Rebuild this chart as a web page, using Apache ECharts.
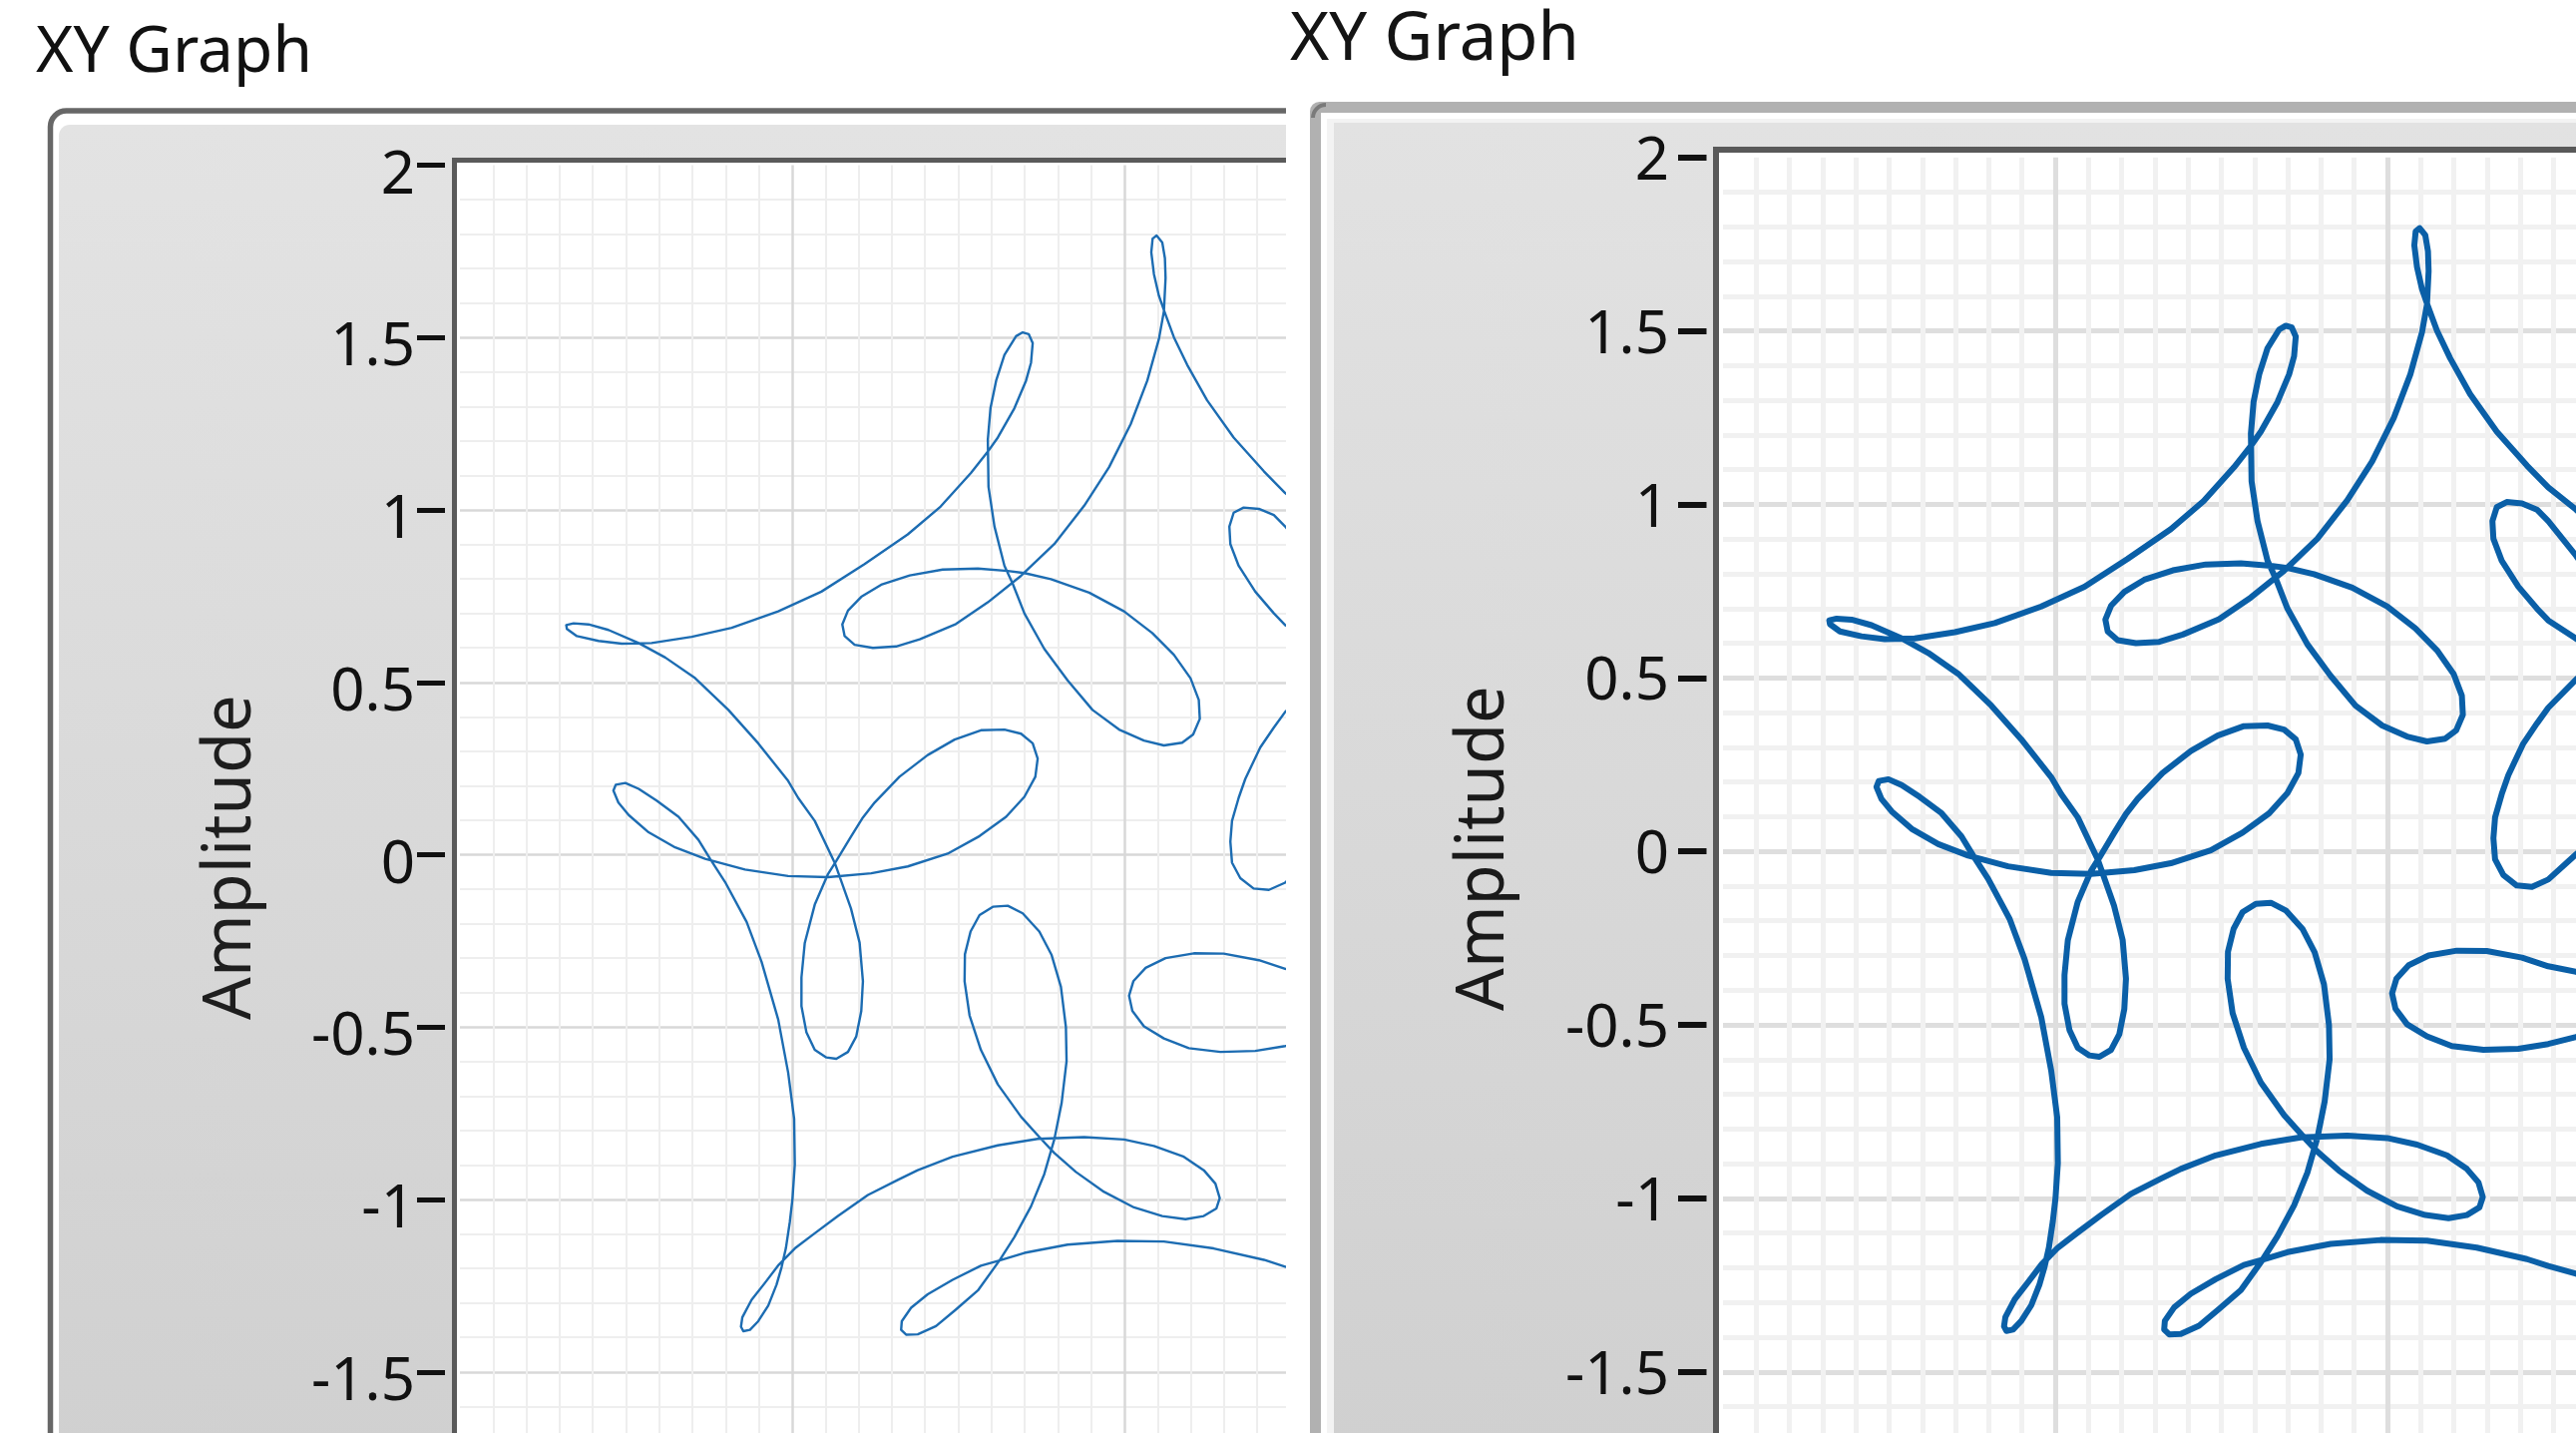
<!DOCTYPE html>
<html>
<head>
<meta charset="utf-8">
<script src="https://cdn.jsdelivr.net/npm/echarts@6/dist/echarts.min.js"></script>
<style>
html,body{margin:0;padding:0;background:#ffffff;overflow:hidden;width:2582px;height:1436px;}
#leftGraph{position:absolute;left:0;top:0;width:1289px;height:1436px;}
#rightGraph{position:absolute;left:1289px;top:0;width:1293px;height:1436px;}
</style>
</head>
<body>
<div id="leftGraph"></div>
<div id="rightGraph"></div>
<script>
// ---------- texts ----------
const chartTitle = 'XY Graph';
const yAxisName = 'Amplitude';

// ---------- axis scales ----------
const xScale = { min: -2, max: 1, step: 1, minorSplits: 10 };
const yScale = { min: -2, max: 2, step: 0.5, minorSplits: 5 };

// ---------- curve data (x, amplitude) ----------
const mainPathBottom = [
  [0.65,-1.245],[0.568,-1.217],[0.484,-1.195],[0.420,-1.175],[0.269,-1.142],[0.119,-1.122],
  [-0.021,-1.120],[-0.171,-1.131],[-0.301,-1.155],[-0.376,-1.177],[-0.432,-1.192],[-0.517,-1.233],
  [-0.592,-1.275],[-0.642,-1.314],[-0.670,-1.353],[-0.672,-1.378],[-0.657,-1.392],[-0.622,-1.391],
  [-0.567,-1.367],[-0.507,-1.319],[-0.441,-1.264],[-0.376,-1.177],[-0.331,-1.109],[-0.281,-1.020],
  [-0.241,-0.926],[-0.211,-0.826],[-0.189,-0.721],[-0.174,-0.599],[-0.176,-0.500],[-0.191,-0.383],
  [-0.219,-0.291],[-0.256,-0.223],[-0.306,-0.170],[-0.351,-0.148],[-0.396,-0.151],[-0.436,-0.175],
  [-0.463,-0.223],[-0.480,-0.289],[-0.481,-0.367],[-0.466,-0.466],[-0.432,-0.566],[-0.381,-0.666],
  [-0.311,-0.760],[-0.251,-0.824],[-0.211,-0.865],[-0.146,-0.920],[-0.061,-0.978],[0.029,-1.023],
  [0.114,-1.048],[0.184,-1.057],[0.239,-1.048],[0.277,-1.026],[0.287,-0.996],[0.274,-0.954],
  [0.239,-0.915],[0.179,-0.876],[0.089,-0.845],[-0.001,-0.826],[-0.121,-0.819],[-0.261,-0.824],
  [-0.381,-0.843],[-0.517,-0.876],[-0.622,-0.915],[-0.682,-0.943],[-0.772,-0.987],[-0.862,-1.048],
  [-0.932,-1.098],[-0.992,-1.142],[-1.040,-1.189],[-1.082,-1.242],[-1.122,-1.291],[-1.150,-1.342],
  [-1.154,-1.369],[-1.147,-1.382],[-1.127,-1.378],[-1.102,-1.353],[-1.072,-1.308],[-1.047,-1.247],
  [-1.032,-1.197],[-1.019,-1.142],[-1.007,-1.065],[-0.999,-0.998],[-0.992,-0.898],[-0.994,-0.766],
  [-1.012,-0.632],[-1.042,-0.478],[-1.092,-0.311],[-1.137,-0.195],[-1.202,-0.079],[-1.247,-0.012]
];
const mainPathMiddle = [
  [-1.282,0.043],[-1.342,0.110],[-1.408,0.157],[-1.462,0.191],[-1.502,0.208],[-1.531,0.203],
  [-1.538,0.186],[-1.523,0.151],[-1.492,0.115],[-1.432,0.065],[-1.352,0.021],[-1.262,-0.012],
  [-1.142,-0.043],[-1.012,-0.062],[-0.892,-0.065],[-0.762,-0.054],[-0.652,-0.034],[-0.532,0.003],
  [-0.436,0.054],[-0.356,0.110],[-0.301,0.168],[-0.268,0.226],[-0.261,0.279],[-0.276,0.323],
  [-0.311,0.351],[-0.361,0.363],[-0.432,0.361],[-0.511,0.334],[-0.592,0.289],[-0.677,0.226],
  [-0.752,0.151],[-0.787,0.108],[-0.822,0.054],[-0.867,-0.018],[-0.892,-0.056],[-0.932,-0.145],
  [-0.962,-0.256],[-0.972,-0.356],[-0.972,-0.439],[-0.957,-0.515],[-0.932,-0.566],[-0.897,-0.588],
  [-0.867,-0.592],[-0.832,-0.572],[-0.807,-0.527],[-0.792,-0.454],[-0.787,-0.367],[-0.797,-0.255],
  [-0.823,-0.156],[-0.872,-0.023],[-0.932,0.098],[-0.982,0.165],[-1.012,0.214],[-1.102,0.323],
  [-1.192,0.420],[-1.292,0.512],[-1.382,0.572],[-1.462,0.614],[-1.553,0.652],[-1.613,0.668],
  [-1.658,0.671],[-1.680,0.666],[-1.678,0.655],[-1.648,0.634],[-1.583,0.620],[-1.513,0.612],
  [-1.423,0.614],[-1.302,0.632],[-1.182,0.658],[-1.042,0.706],[-0.912,0.763],[-0.782,0.843],
  [-0.652,0.929],[-0.553,1.010]
];
const mainPathTop = [
  [-0.462,1.107],[-0.411,1.169],[-0.381,1.210],[-0.331,1.295],[-0.296,1.375],[-0.281,1.427],
  [-0.276,1.484],[-0.288,1.510],[-0.306,1.515],[-0.326,1.504],[-0.361,1.450],[-0.386,1.375],
  [-0.403,1.295],[-0.411,1.204],[-0.409,1.067],[-0.391,0.952],[-0.361,0.838],[-0.336,0.786],
  [-0.301,0.700],[-0.241,0.597],[-0.171,0.506],[-0.096,0.420],[-0.016,0.363],[0.059,0.331],
  [0.119,0.317],[0.174,0.325],[0.207,0.349],[0.227,0.394],[0.224,0.449],[0.199,0.512],
  [0.149,0.580],[0.084,0.643],[-0.001,0.706],[-0.106,0.760],[-0.221,0.799],[-0.301,0.817],
  [-0.351,0.823],[-0.441,0.830],[-0.547,0.827],[-0.646,0.810],[-0.732,0.783],[-0.792,0.748],
  [-0.832,0.708],[-0.849,0.668],[-0.842,0.634],[-0.812,0.609],[-0.757,0.600],[-0.687,0.604],
  [-0.616,0.625],[-0.507,0.669],[-0.411,0.732],[-0.311,0.809],[-0.211,0.901],[-0.121,1.012],
  [-0.046,1.124],[0.019,1.249],[0.069,1.375],[0.104,1.496],[0.119,1.576],[0.124,1.673],
  [0.122,1.730],[0.114,1.776],[0.097,1.796],[0.085,1.787],[0.081,1.747],[0.089,1.684],
  [0.104,1.621],[0.121,1.574],[0.149,1.501],[0.189,1.421],[0.249,1.318],[0.329,1.210],
  [0.420,1.112],[0.484,1.049],[0.568,0.985],[0.65,0.91]
];
const loopUpperRight = [
  [0.65,0.74],[0.568,0.852],[0.484,0.952],[0.450,0.985],[0.405,1.003],[0.359,1.007],
  [0.329,0.992],[0.316,0.952],[0.319,0.901],[0.344,0.838],[0.394,0.763],[0.450,0.700],
  [0.484,0.666],[0.568,0.613],[0.65,0.57]
];
const loopRight = [
  [0.65,0.56],[0.568,0.496],[0.484,0.414],[0.450,0.369],[0.409,0.311],[0.364,0.220],
  [0.344,0.165],[0.324,0.098],[0.319,0.038],[0.324,-0.023],[0.349,-0.068],[0.389,-0.098],
  [0.435,-0.102],[0.484,-0.081],[0.568,-0.008],[0.65,0.06]
];
const ellipseLowerRight = [
  [0.65,-0.37],[0.568,-0.347],[0.484,-0.331],[0.405,-0.306],[0.299,-0.287],[0.209,-0.286],
  [0.124,-0.300],[0.064,-0.328],[0.027,-0.367],[0.014,-0.409],[0.024,-0.453],[0.059,-0.498],
  [0.119,-0.533],[0.194,-0.561],[0.289,-0.572],[0.394,-0.569],[0.484,-0.555],[0.568,-0.535],
  [0.65,-0.51]
];
const mainPath = mainPathBottom.concat(mainPathMiddle, mainPathTop);
const curveSegments = [mainPath, loopUpperRight, loopRight, ellipseLowerRight];

const FONT = '"Noto Sans", "Open Sans", "DejaVu Sans", sans-serif';

function textEl(x, y, text, size, color, rot, align) {
  return {
    type: 'text', x: x, y: y, rotation: rot || 0, z: 20,
    style: {
      text: text, fontSize: size, fontFamily: FONT, fill: color,
      textAlign: align || 'left', align: align || 'left',
      textVerticalAlign: 'middle', verticalAlign: 'middle'
    }
  };
}

function gradientFill(top, bottom) {
  return { type: 'linear', x: 0, y: 0, x2: 0, y2: 1,
    colorStops: [{ offset: 0, color: top }, { offset: 1, color: bottom }] };
}

function buildOption(c) {
  const series = curveSegments.map(function (seg) {
    return {
      type: 'line', data: seg, xAxisIndex: 0, yAxisIndex: 0,
      showSymbol: false, symbol: 'none', smooth: false, clip: true,
      silent: true, animation: false, z: 3,
      lineStyle: { color: c.lineColor, width: c.lineWidth, cap: 'round', join: 'round' },
      emphasis: { disabled: true }
    };
  });
  return {
    animation: false,
    backgroundColor: 'transparent',
    graphic: { elements: c.graphics },
    grid: [{
      left: c.gridLeft, top: c.gridTop, width: c.gridWidth, height: c.gridHeight,
      containLabel: false, outerBoundsMode: 'none', show: false
    }],
    xAxis: [{
      type: 'value', gridIndex: 0, min: xScale.min, max: xScale.max, interval: xScale.step,
      position: 'bottom',
      axisLine: { show: false, onZero: false }, axisTick: { show: false }, axisLabel: { show: false },
      splitLine: { show: true, showMinLine: false, lineStyle: { color: c.majorColor, width: c.majorWidth } },
      minorTick: { show: false, splitNumber: xScale.minorSplits },
      minorSplitLine: { show: true, lineStyle: { color: c.minorColor, width: c.minorWidth } }
    }],
    yAxis: [{
      type: 'value', gridIndex: 0, min: yScale.min, max: yScale.max, interval: yScale.step,
      position: 'left', offset: c.yOffset,
      axisLine: { show: false, onZero: false },
      axisTick: { show: true, length: c.tickLen, lineStyle: { color: '#111111', width: c.tickWidth } },
      axisLabel: {
        show: true, margin: c.labelMargin, fontSize: c.labelSize, fontFamily: FONT,
        color: '#111111', verticalAlign: 'top', lineHeight: c.labelLineHeight
      },
      splitLine: { show: true, showMaxLine: false, lineStyle: { color: c.majorColor, width: c.majorWidth } },
      minorTick: { show: false, splitNumber: yScale.minorSplits },
      minorSplitLine: { show: true, lineStyle: { color: c.minorColor, width: c.minorWidth } }
    }],
    series: series
  };
}

// ---------- left graph (smooth rendering) ----------
const leftGraphics = [
  { type: 'rect', z: -5, shape: { x: 59, y: 125, width: 1400, height: 1400, r: [11, 0, 0, 0] },
    style: { fill: gradientFill('#e3e3e3', '#cfcfcf') } },
  { type: 'rect', z: -4, shape: { x: 50.5, y: 111, width: 1400, height: 1400, r: [16, 0, 0, 0] },
    style: { fill: 'none', stroke: '#676767', lineWidth: 5.5 } },
  { type: 'rect', z: -3, shape: { x: 453, y: 158, width: 900, height: 1300 }, style: { fill: '#ffffff' } },
  { type: 'line', z: 10, shape: { x1: 455.5, y1: 158, x2: 455.5, y2: 1460 }, style: { stroke: '#5a5a5a', lineWidth: 5 } },
  { type: 'line', z: 10, shape: { x1: 453, y1: 160.5, x2: 1320, y2: 160.5 }, style: { stroke: '#5a5a5a', lineWidth: 5 } },
  textEl(36, 54, chartTitle, 64, '#111111', 0, 'left'),
  textEl(232, 859, yAxisName, 67, '#1e1e1e', Math.PI / 2, 'center')
];
const leftCfg = {
  gridLeft: 461, gridTop: 165.5, gridWidth: 999, gridHeight: 1382,
  yOffset: 15, tickLen: 28, tickWidth: 5, labelMargin: 30, labelSize: 60, labelLineHeight: 22,
  lineColor: '#1c6cb2', lineWidth: 2.4,
  majorColor: '#d8d8d8', majorWidth: 2.5, minorColor: '#eeeeee', minorWidth: 2,
  graphics: leftGraphics
};

// ---------- right graph (coarse rendering), local coordinates ----------
const rightGraphics = [
  { type: 'rect', z: -6, shape: { x: 41, y: 119, width: 1300, height: 1400 }, style: { fill: '#f3f3f3' } },
  { type: 'rect', z: -5, shape: { x: 48, y: 123, width: 1300, height: 1400 },
    style: { fill: gradientFill('#e2e2e2', '#cfcfcf') } },
  { type: 'rect', z: -4, shape: { x: 29.5, y: 107.5, width: 1400, height: 1400, r: [4, 0, 0, 0] },
    style: { fill: 'none', stroke: '#b1b1b1', lineWidth: 11 } },
  { type: 'arc', z: -3, shape: { cx: 40, cy: 118, r: 13, startAngle: Math.PI, endAngle: Math.PI * 1.5 },
    style: { fill: 'none', stroke: '#7a7a7a', lineWidth: 4 } },
  { type: 'rect', z: -3, shape: { x: 428, y: 147, width: 900, height: 1320 }, style: { fill: '#ffffff' } },
  { type: 'line', z: 10, shape: { x1: 431, y1: 147, x2: 431, y2: 1460 }, style: { stroke: '#595959', lineWidth: 6 } },
  { type: 'line', z: 10, shape: { x1: 428, y1: 150, x2: 1320, y2: 150 }, style: { stroke: '#595959', lineWidth: 6 } },
  textEl(4, 41, chartTitle, 67, '#141414', 0, 'left'),
  textEl(199, 850, yAxisName, 67, '#1a1a1a', Math.PI / 2, 'center')
];
const rightCfg = {
  gridLeft: 438, gridTop: 157.8, gridWidth: 999, gridHeight: 1390.8,
  yOffset: 16.5, tickLen: 28.5, tickWidth: 6, labelMargin: 37.5, labelSize: 60, labelLineHeight: 10,
  lineColor: '#0a5fa7', lineWidth: 6,
  majorColor: '#dedede', majorWidth: 5, minorColor: '#f1f1f1', minorWidth: 5,
  graphics: rightGraphics
};

const leftChart = echarts.init(document.getElementById('leftGraph'));
leftChart.setOption(buildOption(leftCfg));
const rightChart = echarts.init(document.getElementById('rightGraph'));
rightChart.setOption(buildOption(rightCfg));
</script>
</body>
</html>
